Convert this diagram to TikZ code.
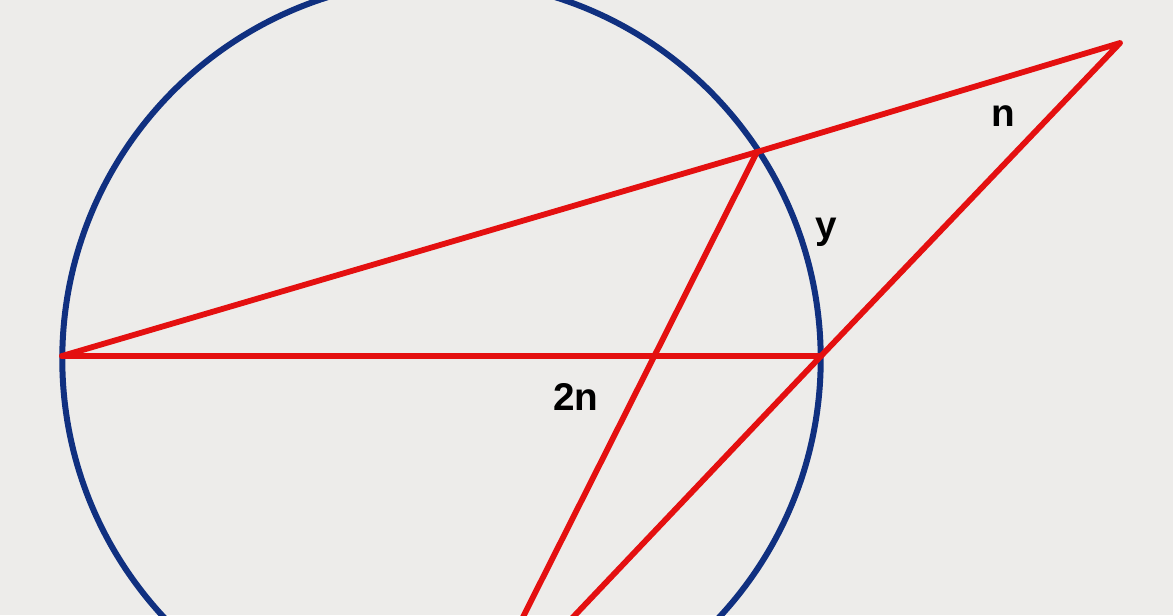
\documentclass[tikz,border=0pt]{standalone}
\usepackage{fontspec}
\setmainfont{Liberation Sans}
\usetikzlibrary{calc}
\definecolor{paper}{RGB}{237,236,234}
\definecolor{circblue}{RGB}{16,48,128}
\definecolor{secred}{RGB}{228,16,16}

\begin{document}
\begin{tikzpicture}[x = 0.01cm, y = -0.01cm,
    secant/.style = {color=secred, line width=0.058cm, line join=round, line cap=round},
    anglabel/.style = {inner sep=0pt, font=\fontsize{11}{13}\selectfont\bfseries}]
	    % background and frame
	    \fill[color=paper] (0,0) rectangle (1173,615);
	    \clip (0,0) rectangle (1173,615);
	    
	    % points
	    \coordinate (O) at (441.5,359);
	    \coordinate (A) at (62,356);
	    \coordinate (B) at (821,356);
	    \coordinate (C) at (757,152);
	    \coordinate (P) at (1120,43);
	    \coordinate (D) at (462.4,737.4);
	    \coordinate (E) at (458.7,737.6);
	    
	    % circle
	    \draw[color=circblue, line width=0.06cm] (O) circle (3.79cm);
	    
	    % red lines
	    \draw[secant] (A) -- (C) -- (P) -- (B) -- (E);
	    \draw[secant] (A) -- (B);
	    \draw[secant] (C) -- (D);
	    
	    % labels
	    \node[anglabel] (lab-n) at (1003,116) {n};
	    \node[anglabel] (lab-y) at (826,232) {y};
	    \node[anglabel] (lab-2n) at (576,397) {2n};
	  \end{tikzpicture}
\end{document}
